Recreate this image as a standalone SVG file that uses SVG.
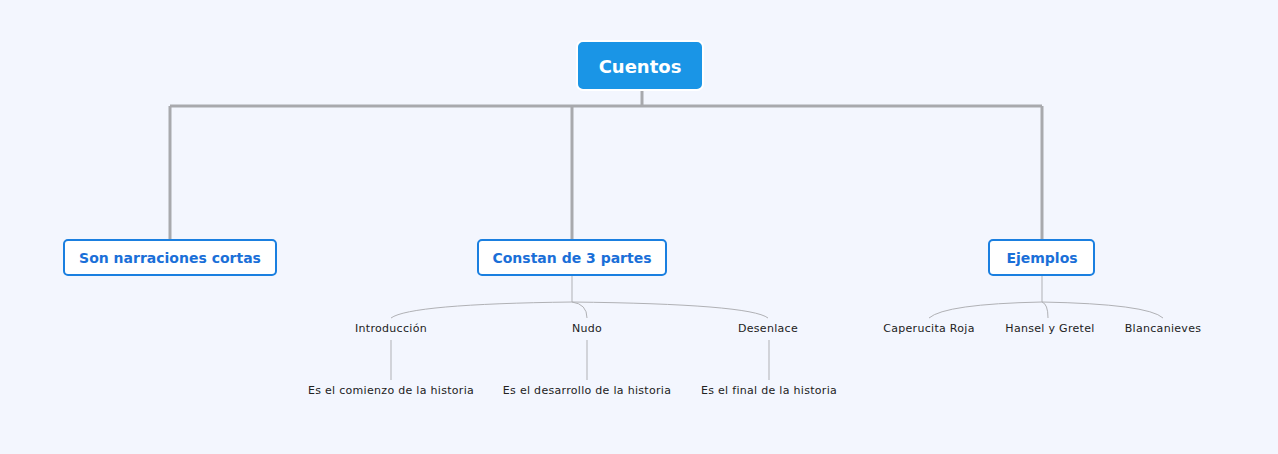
<svg xmlns="http://www.w3.org/2000/svg" width="1278" height="454" viewBox="0 0 1278 454">
<style>
.t{font-family:"DejaVu Sans",Verdana,sans-serif}
.b{fill:#fff;stroke:#1a7fe0;stroke-width:2}
.bl{font-size:14px;font-weight:bold;fill:#1a6fd8;text-anchor:middle}
.s{font-size:11px;fill:#222;text-anchor:middle;letter-spacing:0.3px}
.m{fill:none;stroke:#a8a9ad;stroke-width:3}
.n{fill:none;stroke:#b0b1b5;stroke-width:1}
</style>
<rect width="1278" height="454" fill="#f3f6fe"/>
<g id="connectors">
<path class="m" d="M642 89V106M170 106H1042M170 106V240M572 106V240M1042 106V240"/>
<path class="n" d="M572 275V302M572 302Q410 304 391 318M572 302Q587 304 587 318M572 302Q750 304 768 318"/>
<path class="n" d="M391 340V380M587 340V380M769 340V380"/>
<path class="n" d="M1042 275V302M1042 302Q945 304 929 318M1042 302Q1048 304 1048 318M1042 302Q1148 304 1163 318"/>
</g>
<g id="root"><rect x="577" y="41" width="126" height="49" rx="6" fill="#1a95e6" stroke="#fff" stroke-width="2"/><text class="t" x="640" y="73" font-size="18" font-weight="bold" fill="#fff" text-anchor="middle">Cuentos</text></g>
<g id="n1"><rect class="b" x="64" y="240" width="212" height="35" rx="4"/><text class="t bl" x="170" y="263">Son narraciones cortas</text></g>
<g id="n2"><rect class="b" x="478" y="240" width="188" height="35" rx="4"/><text class="t bl" x="572" y="263">Constan de 3 partes</text></g>
<g id="n3"><rect class="b" x="989" y="240" width="105" height="35" rx="4"/><text class="t bl" x="1042" y="263">Ejemplos</text></g>
<g id="intro"><text class="t s" x="391" y="332">Introducción</text></g>
<g id="nudo"><text class="t s" x="587" y="332">Nudo</text></g>
<g id="desenlace"><text class="t s" x="768" y="332">Desenlace</text></g>
<g id="d1"><text class="t s" x="391" y="394">Es el comienzo de la historia</text></g>
<g id="d2"><text class="t s" x="587" y="394">Es el desarrollo de la historia</text></g>
<g id="d3"><text class="t s" x="769" y="394">Es el final de la historia</text></g>
<g id="e1"><text class="t s" x="929" y="332">Caperucita Roja</text></g>
<g id="e2"><text class="t s" x="1050" y="332">Hansel y Gretel</text></g>
<g id="e3"><text class="t s" x="1163" y="332">Blancanieves</text></g>
</svg>
